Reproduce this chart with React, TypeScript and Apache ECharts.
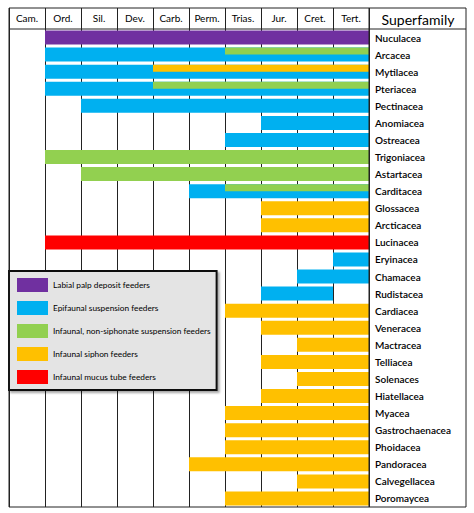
import React, { useEffect, useRef } from "react";
import * as echarts from "echarts";

const periods = ["Cam.", "Ord.", "Sil.", "Dev.", "Carb.", "Perm.", "Trias.", "Jur.", "Cret.", "Tert."];

const superfamilies = [
  "Nuculacea", "Arcacea", "Mytilacea", "Pteriacea", "Pectinacea", "Anomiacea", "Ostreacea",
  "Trigoniacea", "Astartacea", "Carditacea", "Glossacea", "Arcticacea", "Lucinacea", "Eryinacea",
  "Chamacea", "Rudistacea", "Cardiacea", "Veneracea", "Mactracea", "Telliacea", "Solenaces",
  "Hiatellacea", "Myacea", "Gastrochaenacea", "Phoidacea", "Pandoracea", "Calvegellacea", "Poromaycea",
];

// [superfamily, first period, last period, part]
const labialPalpDeposit = [["Nuculacea", "Ord.", "Tert."]];
const epifaunalSuspension = [
  ["Arcacea", "Ord.", "Tert."],
  ["Mytilacea", "Ord.", "Tert."],
  ["Pteriacea", "Ord.", "Tert."],
  ["Pectinacea", "Sil.", "Tert."],
  ["Anomiacea", "Jur.", "Tert."],
  ["Ostreacea", "Trias.", "Tert."],
  ["Carditacea", "Perm.", "Tert."],
  ["Eryinacea", "Tert.", "Tert."],
  ["Chamacea", "Cret.", "Tert."],
  ["Rudistacea", "Jur.", "Cret."],
];
const infaunalNonSiphonate = [
  ["Arcacea", "Trias.", "Tert.", "upper"],
  ["Pteriacea", "Carb.", "Tert.", "upper"],
  ["Trigoniacea", "Ord.", "Tert."],
  ["Astartacea", "Sil.", "Tert."],
  ["Carditacea", "Trias.", "Tert.", "upper"],
];
const infaunalSiphon = [
  ["Mytilacea", "Carb.", "Tert.", "upper"],
  ["Glossacea", "Jur.", "Tert."],
  ["Arcticacea", "Jur.", "Tert."],
  ["Cardiacea", "Trias.", "Tert."],
  ["Veneracea", "Jur.", "Tert."],
  ["Mactracea", "Cret.", "Tert."],
  ["Telliacea", "Jur.", "Tert."],
  ["Solenaces", "Cret.", "Tert."],
  ["Hiatellacea", "Jur.", "Tert."],
  ["Myacea", "Trias.", "Tert."],
  ["Gastrochaenacea", "Trias.", "Tert."],
  ["Phoidacea", "Trias.", "Tert."],
  ["Pandoracea", "Perm.", "Tert."],
  ["Calvegellacea", "Cret.", "Tert."],
  ["Poromaycea", "Trias.", "Tert."],
];
const infaunalMucusTube = [["Lucinacea", "Ord.", "Tert."]];

const groups = [
  { name: "Labial palp deposit feeders", color: "#7030A0", ranges: labialPalpDeposit },
  { name: "Epifaunal suspension feeders", color: "#00B0F0", ranges: epifaunalSuspension },
  { name: "Infaunal, non-siphonate suspension feeders", color: "#92D050", ranges: infaunalNonSiphonate },
  { name: "Infaunal siphon feeders", color: "#FFC000", ranges: infaunalSiphon },
  { name: "Infaunal mucus tube feeders", color: "#FF0000", ranges: infaunalMucusTube },
];

const FONT = "Lato, 'Liberation Sans', sans-serif";

export default function App() {
  const ref = useRef<HTMLDivElement>(null);
  useEffect(() => {
    document.body.style.margin = "0";
    const chart = echarts.init(ref.current!, undefined, { renderer: "svg" });
    const toData = (ranges: any[]) =>
      ranges.map((r) => [
        superfamilies.indexOf(r[0]),
        periods.indexOf(r[1]),
        periods.indexOf(r[2]) + 1,
        r[3] === "upper" ? 1 : 0,
      ]);
    const renderItem = (params: any, api: any) => {
      const row = api.value(0);
      const s = api.value(1);
      const e = api.value(2);
      const upper = api.value(3);
      const p0 = api.coord([s, row]);
      const p1 = api.coord([e, row]);
      const band = api.size([0, 1])[1];
      const h = band * 0.82;
      const top = p0[1] - h / 2;
      return {
        type: "rect",
        shape: { x: p0[0], y: top, width: p1[0] - p0[0], height: upper ? h / 2 : h },
        style: { fill: api.visual("color") },
      };
    };
    const lineColor = "#222";
    chart.setOption({
      animation: false,
      backgroundColor: "#fff",
      grid: [
        { left: 9, top: 29, width: 360, height: 478 },
        { left: 9, top: 8, width: 360, height: 21 },
      ],
      xAxis: [
        {
          type: "value",
          gridIndex: 0,
          min: 0,
          max: 10,
          interval: 1,
          axisLine: { show: false },
          axisTick: { show: false },
          axisLabel: { show: false },
          splitLine: { show: true, lineStyle: { color: lineColor, width: 1 } },
        },
        {
          type: "category",
          gridIndex: 1,
          data: periods,
          boundaryGap: true,
          axisLine: { show: false },
          axisTick: { show: false },
          axisLabel: { inside: true, margin: 6, fontSize: 10, color: "#000", fontFamily: FONT },
          splitLine: { show: true, interval: 0, lineStyle: { color: lineColor, width: 1 } },
        },
      ],
      yAxis: [
        {
          type: "category",
          gridIndex: 0,
          data: superfamilies,
          inverse: true,
          position: "right",
          axisLine: { show: false },
          axisTick: { show: false },
          axisLabel: { margin: 6, fontSize: 10, color: "#000", fontFamily: FONT, fontWeight: 600, interval: 0 },
          splitLine: { show: false },
        },
        {
          type: "value",
          gridIndex: 1,
          show: false,
        },
      ],
      legend: {
        orient: "vertical",
        left: 9,
        top: 271,
        itemWidth: 31,
        itemHeight: 14,
        itemGap: 9,
        padding: [7, 6, 6, 8],
        backgroundColor: "#e4e4e4",
        borderColor: "#111",
        borderWidth: 2,
        shadowColor: "rgba(0,0,0,0.35)",
        shadowOffsetX: 2,
        shadowOffsetY: 2,
        shadowBlur: 2,
        textStyle: { fontSize: 8.3, color: "#000", fontFamily: FONT },
        selectedMode: false,
        data: groups.map((g) => ({ name: g.name, icon: "rect", itemStyle: { color: g.color } })),
      },
      series: groups.map((g) => ({
        type: "custom",
        name: g.name,
        xAxisIndex: 0,
        yAxisIndex: 0,
        itemStyle: { color: g.color },
        renderItem,
        encode: { x: [1, 2], y: 0 },
        data: toData(g.ranges),
      })),
      graphic: [
        {
          type: "rect",
          shape: { x: 9, y: 8, width: 457, height: 499 },
          style: { fill: "none", stroke: "#222", lineWidth: 1 },
          z: 10,
        },
        {
          type: "line",
          shape: { x1: 9, y1: 29, x2: 466, y2: 29 },
          style: { stroke: "#222", lineWidth: 1 },
          z: 10,
        },
        {
          type: "line",
          shape: { x1: 369, y1: 8, x2: 369, y2: 507 },
          style: { stroke: "#222", lineWidth: 1 },
          z: 10,
        },
        {
          type: "text",
          x: 418,
          y: 19,
          style: {
            text: "Superfamily",
            fontSize: 14,
            fontFamily: FONT,
            fill: "#000",
            align: "center",
            verticalAlign: "middle",
          },
          z: 10,
        },
      ],
    });
    return () => chart.dispose();
  }, []);
  return (
    <div
      ref={ref}
      style={{ position: "absolute", left: 0, top: 0, width: 474, height: 513 }}
    />
  );
}
